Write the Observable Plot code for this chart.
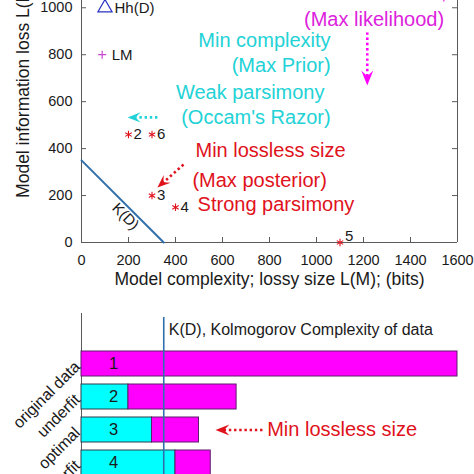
<!DOCTYPE html>
<html>
<head>
<meta charset="utf-8">
<script src="https://cdn.jsdelivr.net/npm/d3@7"></script>
<script src="https://cdn.jsdelivr.net/npm/@observablehq/plot@0.6"></script>
<style>
  html, body { margin: 0; padding: 0; background: #fff; }
  #chart { width: 474px; height: 474px; overflow: hidden; position: relative; }
  #chart svg { display: block; }
</style>
</head>
<body>
<div id="chart"></div>
<script>
// Candidate models: lossy size L(M) against information loss L(D|M), in bits
const modelIds = ["1", "2", "3", "4", "5", "6"];
const fitLabels = ["original data", "underfit", "optimal", "overfit"];
const modelBits = [0, 200, 300, 400, 1100, 300];
const lossBits = [1600, 460, 200, 150, 0, 460];
const kolmogorovBits = 350;

// Reference points
const refNames = ["Hh(D)", "LM"];
const refModelBits = [100, 88];
const refLossBits = [1000, 800];

const xTicks = [0, 200, 400, 600, 800, 1000, 1200, 1400, 1600];
const yTicks = [0, 200, 400, 600, 800, 1000];

const FONT = "'Liberation Sans', Arial, Helvetica, sans-serif";
const AXIS = "#5a5a5a";
const KD_BLUE = "#2f6fab";
const CYAN_TEXT = "#22d2d6";
const MAGENTA_TEXT = "#dc22dc";
const MAGENTA = "#ff00ff";
const RED = "#e0121c";

const models = modelIds.map((id, i) => ({
  id,
  fit: fitLabels[i],
  lm: modelBits[i],
  loss: lossBits[i],
  total: modelBits[i] + lossBits[i]
}));
const scatterModels = models.filter(d => d.id !== "1");
const barModels = models.filter(d => d.fit !== undefined);
const refs = refNames.map((name, i) => ({name, lm: refModelBits[i], loss: refLossBits[i]}));

// Filled arrowhead with a notched back; the tip sits at the symbol origin, pointing up
const arrowHead = {
  draw(context, size) {
    const L = Math.sqrt(size / Math.PI);
    const w = 0.4 * L;
    context.moveTo(0, 0);
    context.lineTo(w, L);
    context.lineTo(0, 0.62 * L);
    context.lineTo(-w, L);
    context.closePath();
  }
};

function dottedArrow({x1, y1, x2, y2, tipX, tipY, rotate, color, r = 13}) {
  return [
    Plot.link([0], {x1, y1, x2, y2, stroke: color, strokeWidth: 2.6, strokeDasharray: "2.4,2.8"}),
    Plot.dot([0], {x: tipX, y: tipY, symbol: arrowHead, r, fill: color, stroke: "none", rotate})
  ];
}

function label(text, options) {
  return Plot.text([text], {text: d => d, fontSize: 20, ...options});
}

const scatterPanel = Plot.plot({
  width: 474,
  height: 305,
  marginLeft: 81,
  marginRight: 17,
  marginTop: 0,
  marginBottom: 63,
  x: {domain: [0, 1600]},
  y: {domain: [0, 1031]},
  style: {fontFamily: FONT, fontSize: "14.5px", color: "#1a1a1a", background: "white"},
  marks: [
    Plot.axisX({ticks: xTicks, tickSize: 0, tickPadding: 12, label: null, tickFormat: d => String(d)}),
    Plot.axisY({ticks: yTicks, tickSize: 0, tickPadding: 9, label: null, tickFormat: d => String(d)}),
    Plot.ruleX([0, 1600], {stroke: AXIS}),
    Plot.ruleY([0], {stroke: AXIS}),
    Plot.tickX(xTicks, {x: d => d, insetTop: 237, stroke: AXIS}),
    Plot.tickY(yTicks, {y: d => d, insetRight: 371, stroke: AXIS}),
    Plot.tickY(yTicks, {y: d => d, insetLeft: 371, stroke: AXIS}),
    Plot.text(["Model complexity; lossy size L(M); (bits)"], {frameAnchor: "bottom", dy: 42, fontSize: 17.5}),
    Plot.text(["Model information loss L(D|M); (bits)"], {
      frameAnchor: "left", y: 190, dx: -58, rotate: -90, textAnchor: "start", fontSize: 17.5
    }),

    // K(D) boundary
    Plot.line([[0, kolmogorovBits], [kolmogorovBits, 0]], {stroke: KD_BLUE, strokeWidth: 2}),
    Plot.text(["K(D)"], {x: kolmogorovBits / 2, y: kolmogorovBits / 2, rotate: 45, dx: 3, dy: 15, fontSize: 15}),

    // Annotations
    label("Min information loss,", {x: 1553, y: 1064, textAnchor: "end", fill: MAGENTA_TEXT}),
    label("(Max likelihood)", {x: 1245, y: 950, fill: MAGENTA_TEXT}),
    label("Min complexity", {x: 1060, y: 861, textAnchor: "end", fill: CYAN_TEXT}),
    label("(Max Prior)", {x: 1060, y: 754, textAnchor: "end", fill: CYAN_TEXT}),
    label("Weak parsimony", {x: 1034, y: 639, textAnchor: "end", fill: CYAN_TEXT}),
    label("(Occam's Razor)", {x: 1060, y: 533, textAnchor: "end", fill: CYAN_TEXT}),
    label("Min lossless size", {x: 485, y: 392, textAnchor: "start", fill: RED}),
    label("(Max posterior)", {x: 472, y: 264, textAnchor: "start", fill: RED}),
    label("Strong parsimony", {x: 494, y: 162, textAnchor: "start", fill: RED}),

    ...dottedArrow({x1: 1216, y1: 895, x2: 1216, y2: 700, tipX: 1216, tipY: 669, rotate: 180, color: MAGENTA, r: 15}),
    ...dottedArrow({x1: 323, y1: 533, x2: 225, y2: 533, tipX: 196, tipY: 533, rotate: -90, color: CYAN_TEXT}),
    ...dottedArrow({x1: 434, y1: 332, x2: 345, y2: 253, tipX: 323, tipY: 234, rotate: -131.5, color: RED}),

    // Reference points
    Plot.dot(refs.slice(0, 1), {x: "lm", y: "loss", symbol: "triangle", r: 5.3, stroke: "#2b33bf", strokeWidth: 1.2}),
    Plot.dot(refs.slice(1), {x: "lm", y: "loss", symbol: "plus", r: 2.7, stroke: "#c848d0", strokeWidth: 1.2}),
    Plot.text(refs, {x: "lm", y: "loss", text: "name", dx: 9.5, textAnchor: "start", fontSize: 15}),

    // Candidate models
    Plot.dot(scatterModels, {x: "lm", y: "loss", symbol: "asterisk", r: 3.5, stroke: RED, strokeWidth: 1.1}),
    Plot.text(scatterModels.filter(d => d.loss > 0), {x: "lm", y: "loss", text: "id", dx: 5, textAnchor: "start", fontSize: 15}),
    Plot.text(scatterModels.filter(d => d.loss === 0), {x: "lm", y: "loss", text: "id", dx: 5, dy: -6, textAnchor: "start", fontSize: 15})
  ]
});

const barPanel = Plot.plot({
  width: 474,
  height: 169,
  marginLeft: 81,
  marginRight: 17,
  marginTop: 8,
  marginBottom: 0,
  x: {domain: [0, 1600], axis: null},
  y: {domain: fitLabels, range: [41.2, 176], paddingInner: 0.23, paddingOuter: 0.115, axis: null},
  style: {fontFamily: FONT, fontSize: "16px", color: "#1a1a1a", background: "white"},
  marks: [
    Plot.ruleX([0], {stroke: AXIS}),
    Plot.barX(barModels.filter(d => d.lm > 0), {y: "fit", x1: 0, x2: "lm", fill: "#00ffff", stroke: "#2e3d4a", strokeWidth: 1}),
    Plot.barX(barModels, {y: "fit", x1: "lm", x2: "total", fill: MAGENTA, stroke: "#5e1c6c", strokeWidth: 1}),
    Plot.ruleX([kolmogorovBits], {stroke: KD_BLUE, strokeWidth: 1.6, insetTop: 4}),
    Plot.text(barModels, {y: "fit", text: "id", frameAnchor: "left", dx: 27.5, fontSize: 16.5}),
    Plot.text(barModels, {y: "fit", text: "fit", frameAnchor: "left", dx: -4, rotate: -45, textAnchor: "end", fontSize: 16}),
    Plot.text(["K(D), Kolmogorov Complexity of data"], {
      x: kolmogorovBits, frameAnchor: "top", dx: 5, dy: 10, textAnchor: "start", fontSize: 16
    }),
    Plot.text(["Min lossless size"], {x: 790, y: () => "optimal", textAnchor: "start", fill: RED, fontSize: 20}),
    Plot.link([0], {x1: 770, x2: 600, y1: () => "optimal", y2: () => "optimal", stroke: RED, strokeWidth: 2.6, strokeDasharray: "2.4,2.8"}),
    Plot.dot([0], {x: 570, y: () => "optimal", symbol: arrowHead, r: 14, fill: RED, stroke: "none", rotate: -90})
  ]
});

document.getElementById("chart").append(scatterPanel, barPanel);
</script>
</body>
</html>
